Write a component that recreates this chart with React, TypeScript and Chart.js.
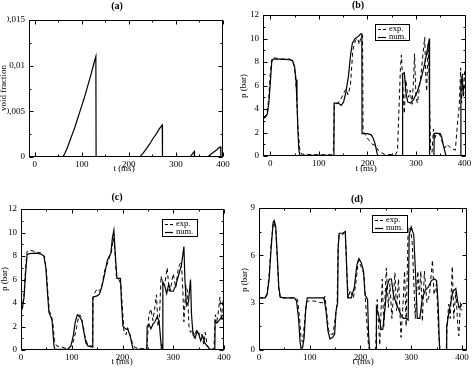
import React, { useEffect, useRef } from "react";
import { Chart, registerables } from "chart.js";
Chart.register(...registerables);

const SERIF = '"Liberation Serif", "Times New Roman", serif';

// ---------- data ----------
const xTicks = [0, 100, 200, 300, 400];
const xMinor = [50, 150, 250, 350];
const aYTicks = [0, 0.005, 0.01, 0.015];
const aYLabels = ["0", "0,005", "0,01", "0,015"];
const aYMinor = [0.0025, 0.0075, 0.0125];
const pYTicks = [0, 2, 4, 6, 8, 10, 12];
const pYLabels = ["0", "2", "4", "6", "8", "10", "12"];
const pYMinor = [1, 3, 5, 7, 9, 11];
const dYTicks = [0, 3, 6, 9];
const dYLabels = ["0", "3", "6", "9"];
const dYMinor = [1.5, 4.5, 7.5];

const aVoid = [
  [-12, 0], [60, 0], [65, 0.0005], [70, 0.0011], [75, 0.0018], [80, 0.0025], [85, 0.0032], [90, 0.004],
  [95, 0.0048], [100, 0.0056], [105, 0.0064], [110, 0.0073], [115, 0.0082], [120, 0.0091], [125, 0.0101],
  [130, 0.011], [130.5, 0], [223, 0], [230, 0.0004], [237, 0.0009], [244, 0.0014], [251, 0.002],
  [258, 0.0025], [265, 0.0031], [271, 0.0035], [271.5, 0], [330, 0], [333, 0.0002], [336, 0.0004],
  [339, 0.0006], [339.5, 0], [367, 0], [372, 0.0002], [377, 0.0004], [382, 0.0006], [387, 0.0008],
  [391, 0.001], [395, 0.0011], [395.5, 0], [400, 0],
];

const bNum = [
  [-15, 3.2], [-10, 3.3], [-6, 3.6], [-3, 4.5], [0, 6.2], [3, 8.0], [6, 8.25], [20, 8.25], [40, 8.2],
  [46, 8.1], [50, 7.6], [53, 6.5], [55, 4.5], [57, 2.0], [59, 0.5], [61, 0.05], [131, 0.05], [131.5, 4.5],
  [140, 4.5], [146, 4.3], [151, 4.6], [156, 5.5], [161, 6.8], [165, 8.5], [169, 9.6], [175, 10.0],
  [182, 10.2], [186, 10.4], [188.5, 10.4], [189, 1.9], [200, 1.9], [208, 1.8], [212, 1.5], [216, 1.0],
  [220, 0.2], [222, 0], [272, 0], [272.5, 7.0], [276, 7.1], [279, 5.5], [283, 4.6], [288, 4.5],
  [295, 4.8], [303, 5.5], [310, 6.5], [316, 7.5], [321, 8.5], [327.5, 10.0], [328, 0], [337, 0],
  [337.5, 1.9], [340, 1.95], [350, 1.9], [353, 1.6], [357, 0.8], [362, 0], [392, 0], [392.5, 6.0],
  [395, 6.8], [397, 5.5], [400, 6.0],
];
const bExp = [
  [-15, 3.3], [-10, 3.4], [-6, 3.8], [-3, 5.0], [0, 7.0], [3, 8.3], [8, 8.35], [20, 8.25], [40, 8.25],
  [46, 8.1], [50, 7.5], [54, 5.5], [57, 2.5], [60, 0.8], [62, 0.3], [66, 0.15], [100, 0.1], [125, 0.1],
  [130, 0.4], [132, 4.4], [140, 4.5], [146, 4.9], [152, 5.4], [156, 5.7], [160, 5.2], [165, 6.0],
  [170, 9.0], [175, 9.8], [180, 10.0], [183, 9.5], [186, 10.0], [190, 10.3], [191, 2.1], [196, 1.8],
  [202, 1.4], [210, 1.0], [216, 0.9], [222, 0.5], [228, 0.3], [235, 0.15], [258, 0.1], [262, 0.5],
  [265, 4.0], [268, 7.5], [270, 8.6], [273, 6.0], [276, 3.6], [279, 6.5], [282, 5.5], [285, 5.0],
  [288, 5.6], [292, 4.4], [295, 6.5], [297, 8.7], [300, 5.0], [303, 4.5], [306, 5.5], [310, 6.8],
  [314, 8.5], [318, 10.1], [320, 7.0], [322, 5.5], [325, 9.5], [327, 7.0], [330, 0.5], [333, 0.3],
  [336, 2.3], [338, 1.4], [341, 1.8], [348, 1.9], [352, 1.5], [356, 0.9], [360, 0.7], [364, 1.0],
  [368, 0.8], [375, 0.6], [381, 0.5], [386, 3.0], [389, 4.2], [392, 7.5], [394, 4.5], [396, 7.0],
  [398, 5.0], [400, 7.2],
];

const cNum = [
  [0, 3.3], [3, 3.6], [6, 4.5], [9, 6.5], [12, 8.1], [16, 8.2], [30, 8.25], [40, 8.15], [45, 8.0],
  [49, 7.0], [52, 5.0], [55, 3.2], [58, 2.9], [61, 2.6], [63, 1.5], [65, 0.3], [67, 0.05], [92, 0.05],
  [98, 0.3], [103, 1.2], [107, 2.4], [111, 3.0], [116, 2.8], [120, 2.5], [124, 1.5], [128, 0.6],
  [132, 0.35], [141, 0.25], [141.5, 4.5], [150, 4.6], [155, 4.8], [160, 5.5], [165, 6.5], [170, 7.6],
  [174, 8.0], [177, 8.2], [180, 9.5], [183, 10.2], [186, 8.0], [189, 6.1], [196, 6.1], [198, 4.0],
  [201, 2.0], [206, 1.8], [211, 1.7], [215, 1.2], [218, 0.6], [221, 0.05], [248, 0.05], [248.5, 2.0],
  [252, 2.2], [256, 1.8], [260, 2.2], [264, 2.4], [268, 2.8], [272, 2.5], [276, 0.5], [277, 0],
  [279, 0], [279.5, 5.8], [283, 5.5], [287, 4.8], [291, 5.6], [295, 5.0], [300, 5.0], [305, 5.5],
  [310, 6.3], [316, 7.2], [321, 8.8], [323, 6.0], [326, 3.8], [330, 4.1], [334, 6.0], [336, 3.0],
  [339, 1.3], [343, 1.0], [347, 1.6], [350, 1.4], [354, 0.8], [358, 1.2], [362, 0.6], [366, 0.4],
  [372, 0.05], [382, 0.05], [382.5, 2.5], [386, 2.3], [390, 2.5], [395, 2.8], [400, 2.5],
];
const cExp = [
  [0, 3.4], [3, 3.7], [6, 4.8], [9, 7.0], [12, 8.4], [18, 8.5], [30, 8.35], [40, 8.25], [46, 8.0],
  [50, 6.8], [53, 4.8], [56, 3.3], [60, 2.9], [63, 2.2], [66, 0.8], [70, 0.35], [80, 0.25], [92, 0.1],
  [100, 0.4], [105, 1.0], [110, 2.0], [114, 3.0], [118, 2.9], [122, 2.2], [126, 1.2], [130, 0.6],
  [135, 0.4], [141, 0.3], [142, 4.4], [146, 4.9], [150, 5.2], [155, 5.0], [160, 5.6], [165, 6.8],
  [170, 7.3], [175, 8.0], [178, 8.3], [182, 9.5], [185, 8.5], [188, 6.2], [193, 6.0], [197, 5.5],
  [200, 3.5], [203, 1.5], [207, 1.3], [210, 1.9], [215, 1.3], [220, 0.5], [225, 0.2], [240, 0.1],
  [248, 0.1], [252, 3.0], [256, 3.5], [260, 2.5], [264, 3.7], [267, 4.7], [270, 2.0], [273, 3.0],
  [276, 6.3], [280, 5.5], [284, 5.8], [288, 7.0], [292, 5.0], [296, 5.5], [300, 6.5], [305, 5.3],
  [310, 7.0], [313, 7.3], [316, 7.5], [319, 5.0], [321, 2.4], [325, 5.5], [328, 5.0], [331, 2.0],
  [334, 1.5], [338, 1.7], [342, 1.2], [346, 1.7], [350, 1.3], [355, 1.5], [360, 0.5], [363, 1.5],
  [367, 0.4], [371, 0.1], [380, 0.05], [383, 3.0], [386, 2.5], [389, 3.3], [392, 4.5], [395, 2.5],
  [398, 4.3], [400, 3.8],
];

const dNum = [
  [0, 3.3], [12, 3.3], [16, 3.5], [20, 4.5], [24, 6.5], [28, 8.1], [30, 8.2], [33, 7.8], [36, 6.0],
  [39, 4.0], [42, 3.35], [50, 3.3], [70, 3.3], [74, 3.1], [78, 2.0], [81, 0.5], [83, 0.1], [86, 0.15],
  [89, 0.8], [92, 2.5], [95, 3.3], [128, 3.3], [132, 2.5], [136, 1.2], [140, 0.7], [145, 0.8],
  [149, 1.0], [152, 2.5], [155, 3.0], [156, 6.5], [158, 7.4], [165, 7.4], [170, 7.5], [172, 6.0],
  [175, 3.3], [182, 3.3], [188, 4.0], [193, 5.4], [197, 5.8], [202, 5.5], [206, 5.0], [209, 3.5],
  [214, 3.2], [216, 1.0], [218, 0], [231, 0], [231.5, 2.7], [236, 2.2], [241, 1.3], [244, 1.3],
  [248, 2.5], [252, 4.0], [257, 4.5], [261, 4.5], [265, 3.5], [270, 3.0], [275, 2.6], [280, 2.2],
  [285, 2.0], [290, 2.0], [294, 1.9], [296, 7.3], [300, 7.8], [305, 7.3], [309, 4.5], [312, 2.0],
  [317, 2.0], [322, 3.3], [328, 3.8], [334, 4.0], [340, 4.4], [346, 4.5], [350, 4.4], [353, 3.0],
  [356, 0], [369, 0], [370, 1.5], [375, 2.5], [378, 3.0], [382, 3.7], [388, 3.9], [391, 3.2],
  [394, 2.7], [398, 2.8], [400, 2.9],
];
const dExp = [
  [0, 3.3], [12, 3.3], [16, 3.6], [20, 4.8], [24, 6.8], [28, 8.0], [30, 8.1], [33, 7.6], [36, 5.8],
  [39, 3.8], [42, 3.3], [70, 3.3], [76, 3.2], [80, 2.0], [83, 0.7], [86, 0.5], [89, 1.5], [93, 3.0],
  [97, 3.1], [110, 3.1], [120, 3.0], [126, 3.0], [130, 3.4], [133, 2.5], [137, 1.3], [141, 1.0],
  [146, 1.0], [150, 2.0], [154, 3.0], [156, 6.5], [158, 7.3], [165, 7.3], [170, 7.6], [173, 5.0],
  [176, 3.3], [180, 3.8], [183, 3.5], [186, 3.3], [190, 4.0], [196, 5.7], [201, 5.3], [207, 4.8],
  [212, 2.0], [216, 0.2], [218, 0.05], [230, 0.05], [233, 3.2], [238, 0.3], [243, 4.5], [246, 1.5],
  [251, 5.2], [255, 2.7], [258, 4.2], [262, 2.0], [268, 4.9], [271, 2.5], [275, 4.5], [280, 0.8],
  [284, 3.0], [287, 5.0], [290, 1.5], [294, 7.8], [299, 7.6], [302, 6.8], [308, 2.0], [313, 5.0],
  [316, 3.5], [319, 5.0], [322, 1.8], [326, 5.0], [331, 3.0], [336, 3.5], [342, 5.7], [345, 3.5],
  [350, 4.2], [354, 1.0], [357, 0], [369, 0], [371, 1.7], [374, 2.9], [377, 2.0], [381, 5.3],
  [384, 2.0], [388, 3.7], [392, 1.5], [394, 0.9], [397, 3.0], [400, 2.5],
];

// ---------- panel layout ----------
type Series = { label: string; pts: number[][]; dash: boolean };
type Panel = {
  title: string; titlePos: number[]; area: number[];
  xMin: number; xMax: number; yMin: number; yMax: number;
  yTicks: number[]; yLabels: string[]; yMinor: number[];
  yTitle: string; yTitlePos: number[]; xTitlePos: number[];
  legend: number[] | null; series: Series[];
};

const PANELS: Panel[] = [
  {
    title: "(a)", titlePos: [117, 6], area: [29, 20, 223, 157],
    xMin: -12, xMax: 400, yMin: 0, yMax: 0.015,
    yTicks: aYTicks, yLabels: aYLabels, yMinor: aYMinor,
    yTitle: "void fraction", yTitlePos: [4, 88], xTitlePos: [124, 169],
    legend: null, series: [{ label: "void", pts: aVoid, dash: false }],
  },
  {
    title: "(b)", titlePos: [358, 5], area: [263, 15, 466, 156],
    xMin: -15, xMax: 403, yMin: 0, yMax: 12,
    yTicks: pYTicks, yLabels: pYLabels, yMinor: pYMinor,
    yTitle: "p (bar)", yTitlePos: [244, 86], xTitlePos: [366, 169],
    legend: [375, 24, 34, 16],
    series: [{ label: "exp.", pts: bExp, dash: true }, { label: "num.", pts: bNum, dash: false }],
  },
  {
    title: "(c)", titlePos: [117, 197], area: [21, 209, 224, 350],
    xMin: 0, xMax: 400, yMin: 0, yMax: 12,
    yTicks: pYTicks, yLabels: pYLabels, yMinor: pYMinor,
    yTitle: "p (bar)", yTitlePos: [5, 279], xTitlePos: [122, 362],
    legend: [162, 219, 35, 17],
    series: [{ label: "exp.", pts: cExp, dash: true }, { label: "num.", pts: cNum, dash: false }],
  },
  {
    title: "(d)", titlePos: [357, 199], area: [259, 208, 467, 350],
    xMin: 0, xMax: 410, yMin: 0, yMax: 9,
    yTicks: dYTicks, yLabels: dYLabels, yMinor: dYMinor,
    yTitle: "p (bar)", yTitlePos: [245, 280], xTitlePos: [363, 362],
    legend: [372, 215, 35, 17],
    series: [{ label: "exp.", pts: dExp, dash: true }, { label: "num.", pts: dNum, dash: false }],
  },
];

function framePlugin(p: Panel) {
  return {
    id: "frame" + p.title,
    afterDraw(chart: any) {
      const ctx = chart.ctx as CanvasRenderingContext2D;
      const { left, top, right, bottom } = chart.chartArea;
      const xs = chart.scales.x, ys = chart.scales.y;
      const l = Math.round(left) + 0.5, t = Math.round(top) + 0.5;
      const r = Math.round(right) - 0.5, b = Math.round(bottom) - 0.5;
      ctx.save();
      ctx.strokeStyle = "#000";
      ctx.lineWidth = 1;
      ctx.setLineDash([]);
      ctx.strokeRect(l, t, r - l, b - t);
      const seg = (x1: number, y1: number, x2: number, y2: number) => {
        ctx.beginPath(); ctx.moveTo(x1, y1); ctx.lineTo(x2, y2); ctx.stroke();
      };
      const xt = (v: number, len: number) => {
        const px = Math.round(xs.getPixelForValue(v)) + 0.5;
        seg(px, b, px, b - len); seg(px, t, px, t + len);
      };
      const yt = (v: number, len: number) => {
        const py = Math.round(ys.getPixelForValue(v)) + 0.5;
        seg(l, py, l + len, py); seg(r, py, r - len, py);
      };
      xTicks.forEach((v) => xt(v, 4));
      xMinor.forEach((v) => xt(v, 2));
      p.yTicks.forEach((v) => yt(v, 4));
      p.yMinor.forEach((v) => yt(v, 2));

      ctx.fillStyle = "#000";
      ctx.textAlign = "center";
      ctx.textBaseline = "middle";
      ctx.font = `bold 10px ${SERIF}`;
      ctx.fillText(p.title, p.titlePos[0], p.titlePos[1]);
      ctx.font = `9px ${SERIF}`;
      ctx.fillText("t (ms)", p.xTitlePos[0], p.xTitlePos[1]);
      ctx.save();
      ctx.translate(p.yTitlePos[0], p.yTitlePos[1]);
      ctx.rotate(-Math.PI / 2);
      ctx.fillText(p.yTitle, 0, 0);
      ctx.restore();

      if (p.legend) {
        const [bx, by, bw, bh] = p.legend;
        ctx.strokeRect(bx + 0.5, by + 0.5, bw, bh);
        ctx.font = `8.5px ${SERIF}`;
        ctx.textAlign = "left";
        p.series.forEach((s, i) => {
          const cy = by + 4.5 + i * 8;
          ctx.setLineDash(s.dash ? [3, 2] : []);
          ctx.lineWidth = s.dash ? 1 : 1.2;
          seg(bx + 3, Math.round(cy) + 0.5, bx + 11, Math.round(cy) + 0.5);
          ctx.setLineDash([]);
          ctx.fillText(s.label, bx + 14, cy + 0.5);
        });
      }
      ctx.restore();
    },
  };
}

function makeChart(canvas: HTMLCanvasElement, p: Panel) {
  const [L, T, R, B] = p.area;
  const WY = 22, HX = 14;
  const font = { family: SERIF, size: 9 };
  const zeroPad = (s: any) => { s.paddingLeft = 0; s.paddingRight = 0; s.paddingTop = 0; s.paddingBottom = 0; };
  return new Chart(canvas, {
    type: "line",
    data: {
      datasets: p.series.map((s) => ({
        label: s.label,
        data: s.pts.map(([x, y]) => ({ x, y })),
        borderColor: "#000",
        borderWidth: s.dash ? 1 : 1.2,
        borderDash: s.dash ? [4, 3] : [],
        pointRadius: 0,
        tension: 0,
        fill: false,
      })),
    },
    options: {
      responsive: false,
      animation: false,
      devicePixelRatio: 1,
      events: [],
      layout: { padding: { left: L - WY, top: T, right: 474 - R, bottom: 368 - B - HX } },
      plugins: { legend: { display: false }, tooltip: { enabled: false }, title: { display: false } },
      scales: {
        x: {
          type: "linear", min: p.xMin, max: p.xMax,
          grid: { display: false, drawTicks: false }, border: { display: false },
          afterBuildTicks: (s: any) => { s.ticks = xTicks.map((v) => ({ value: v })); },
          afterFit: (s: any) => { s.height = HX; zeroPad(s); },
          ticks: { font, color: "#000", padding: 2, maxRotation: 0, autoSkip: false, callback: (v: any) => String(v) },
        },
        y: {
          type: "linear", min: p.yMin, max: p.yMax,
          grid: { display: false, drawTicks: false }, border: { display: false },
          afterBuildTicks: (s: any) => { s.ticks = p.yTicks.map((v) => ({ value: v })); },
          afterFit: (s: any) => { s.width = WY; zeroPad(s); },
          ticks: { font, color: "#000", padding: 4, autoSkip: false, callback: (_v: any, i: number) => p.yLabels[i] },
        },
      },
    } as any,
    plugins: [framePlugin(p)],
  });
}

export default function App() {
  const canvasRefs = useRef<(HTMLCanvasElement | null)[]>([]);
  useEffect(() => {
    const charts = PANELS.map((p, i) => makeChart(canvasRefs.current[i] as HTMLCanvasElement, p));
    return () => charts.forEach((c) => c.destroy());
  }, []);
  return (
    <div style={{ position: "fixed", left: 0, top: 0, width: 474, height: 368, background: "#fff" }}>
      {PANELS.map((p, i) => (
        <canvas
          key={p.title}
          ref={(el) => { canvasRefs.current[i] = el; }}
          width={474}
          height={368}
          style={{ position: "absolute", left: 0, top: 0, width: 474, height: 368 }}
        />
      ))}
    </div>
  );
}
